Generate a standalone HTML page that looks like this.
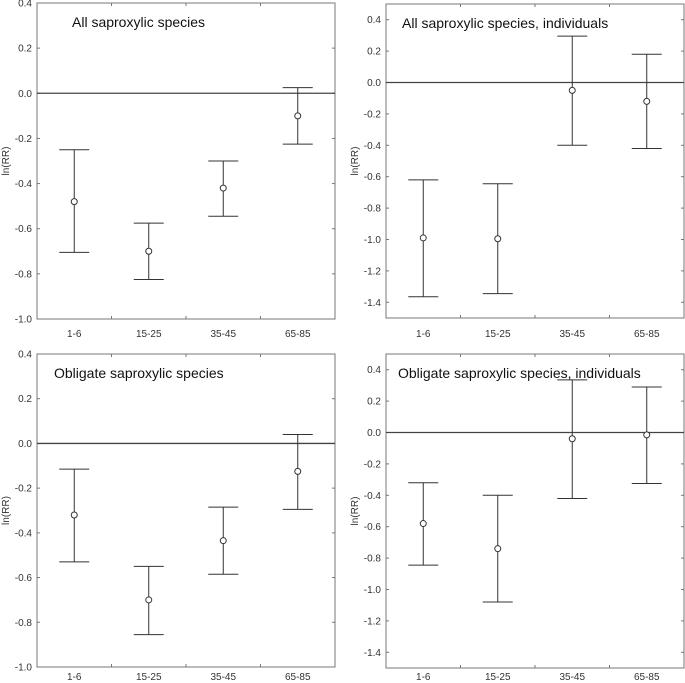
<!DOCTYPE html>
<html><head><meta charset="utf-8"><style>
body{margin:0;background:#fff;width:685px;height:683px;overflow:hidden}
svg{display:block;font-family:"Liberation Sans",sans-serif}
</style></head><body>
<svg id="c" width="685" height="683"></svg>
<script>
const categories=["1-6","15-25","35-45","65-85"];
const p1Mean=[-0.48,-0.70,-0.42,-0.10];
const p1Up=[-0.25,-0.575,-0.30,0.025];
const p1Lo=[-0.705,-0.825,-0.545,-0.225];
const p2Mean=[-0.99,-0.995,-0.05,-0.12];
const p2Up=[-0.62,-0.645,0.295,0.18];
const p2Lo=[-1.365,-1.345,-0.40,-0.42];
const p3Mean=[-0.32,-0.70,-0.435,-0.125];
const p3Up=[-0.115,-0.55,-0.285,0.04];
const p3Lo=[-0.53,-0.855,-0.585,-0.295];
const p4Mean=[-0.58,-0.74,-0.04,-0.015];
const p4Up=[-0.32,-0.40,0.335,0.29];
const p4Lo=[-0.845,-1.08,-0.42,-0.325];
const ticksA=[0.4,0.2,0.0,-0.2,-0.4,-0.6,-0.8,-1.0];
const ticksB=[0.4,0.2,0.0,-0.2,-0.4,-0.6,-0.8,-1.0,-1.2,-1.4];
const titles=["All saproxylic species","All saproxylic species, individuals","Obligate saproxylic species","Obligate saproxylic species, individuals"];

const svg=document.getElementById('c');
const NS="http://www.w3.org/2000/svg";
function mk(tag,attrs,parent){const e=document.createElementNS(NS,tag);for(const k in attrs)e.setAttribute(k,attrs[k]);parent.appendChild(e);return e;}

const panels=[
 {x0:37,x1:335,y0:3,y1:319,vmax:0.4,vmin:-1.0,ticks:ticksA,mean:p1Mean,up:p1Up,lo:p1Lo,tx:72,lab:337,name:'panel-all-species'},
 {x0:386,x1:684,y0:4,y1:318,vmax:0.5,vmin:-1.5,ticks:ticksB,mean:p2Mean,up:p2Up,lo:p2Lo,tx:402,lab:337,name:'panel-all-individuals'},
 {x0:37,x1:335,y0:354,y1:667,vmax:0.4,vmin:-1.0,ticks:ticksA,mean:p3Mean,up:p3Up,lo:p3Lo,tx:54,lab:680,name:'panel-obligate-species'},
 {x0:386,x1:684,y0:354,y1:668,vmax:0.5,vmin:-1.5,ticks:ticksB,mean:p4Mean,up:p4Up,lo:p4Lo,tx:398,lab:680,name:'panel-obligate-individuals'}
];
panels.forEach((p,pi)=>{
 const g=mk('g',{},svg);
 
 
 const y=v=>p.y0+(p.vmax-v)/(p.vmax-p.vmin)*(p.y1-p.y0);
 const bw=(p.x1-p.x0)/categories.length;
 const x=i=>p.x0+bw*(i+0.5);
 const fr=mk('rect',{x:p.x0,y:p.y0,width:p.x1-p.x0,height:p.y1-p.y0,fill:'none',stroke:'#777','stroke-width':1},g);
 
 
 p.ticks.forEach(t=>{
  const yy=y(t);
  mk('line',{x1:p.x0,x2:p.x0+3,y1:yy,y2:yy,stroke:'#777'},g);
  mk('line',{x1:p.x1-3,x2:p.x1,y1:yy,y2:yy,stroke:'#777'},g);
  const l=mk('text',{x:p.x0-5,y:yy+3.5,'text-anchor':'end','font-size':10,fill:'#333'},g);
  l.textContent=t.toFixed(1);
  
  
 });
 for(let i=1;i<categories.length;i++){
  const xx=p.x0+bw*i;
  mk('line',{x1:xx,x2:xx,y1:p.y1,y2:p.y1-3,stroke:'#777'},g);
  mk('line',{x1:xx,x2:xx,y1:p.y0,y2:p.y0+3,stroke:'#777'},g);
 }
 categories.forEach((c,i)=>{
  const l=mk('text',{x:x(i),y:p.lab,'text-anchor':'middle','font-size':10,fill:'#333'},g);
  l.textContent=c;
  
  
 });
 const yt=mk('text',{x:0,y:0,'text-anchor':'middle','font-size':10,fill:'#333',transform:`translate(${p.x0-28},${(p.y0+p.y1)/2}) rotate(-90)`},g);
 yt.textContent='ln(RR)';
 
 
 const z=mk('line',{x1:p.x0,x2:p.x1,y1:y(0),y2:y(0),stroke:'#444','stroke-width':1.3},g);
 
 
 const tt=mk('text',{x:p.tx,y:p.y0+24,'font-size':14,fill:'#111'},g);
 tt.textContent=titles[pi];
 
 
 categories.forEach((c,i)=>{
  const eg=mk('g',{stroke:'#333','stroke-width':1,fill:'none'},g);
  
  
  const xx=x(i);
  mk('line',{x1:xx,x2:xx,y1:y(p.up[i]),y2:y(p.mean[i])-3},eg);
  mk('line',{x1:xx,x2:xx,y1:y(p.mean[i])+3,y2:y(p.lo[i])},eg);
  mk('line',{x1:xx-15,x2:xx+15,y1:y(p.up[i]),y2:y(p.up[i])},eg);
  mk('line',{x1:xx-15,x2:xx+15,y1:y(p.lo[i]),y2:y(p.lo[i])},eg);
  const pt=mk('circle',{cx:xx,cy:y(p.mean[i]),r:3,fill:'#fff'},eg);
  
  
 });
});
</script>
</body></html>
